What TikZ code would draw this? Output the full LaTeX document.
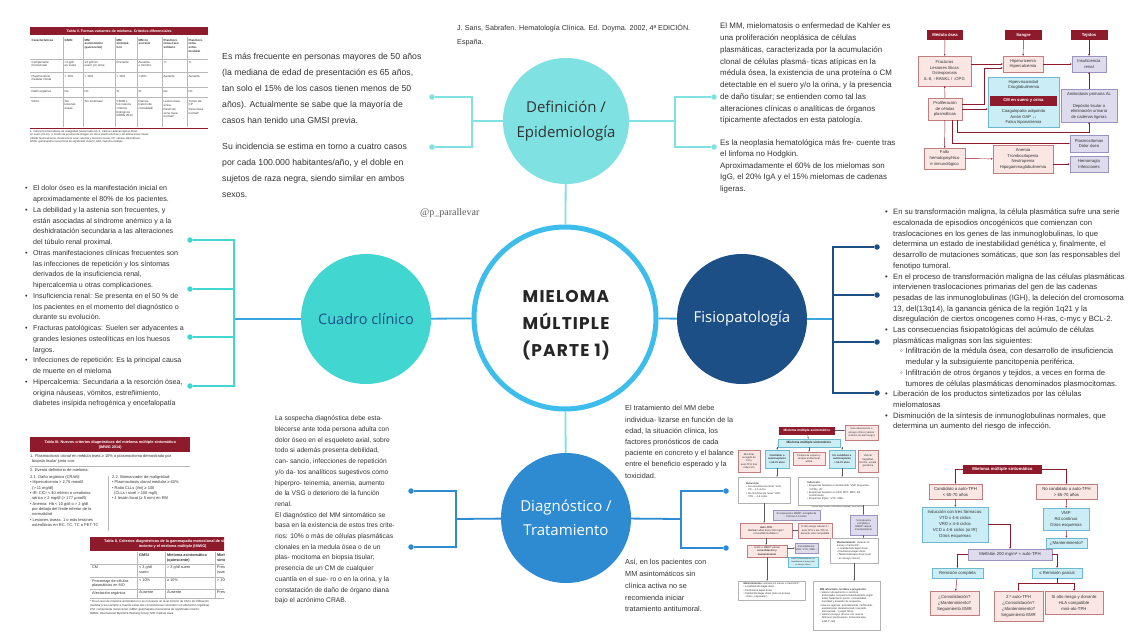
\documentclass[tikz,border=0pt]{standalone}
\usepackage{fontspec}
\setmainfont{Liberation Sans}
\newfontfamily\circfont{Open Sans}
\newfontfamily\titlefont[LetterSpace=7]{Poppins}
\newfontfamily\signfont{Liberation Serif}
\usetikzlibrary{arrows.meta}
\definecolor{txt}{HTML}{333333}
\definecolor{defc}{HTML}{80E1E3}
\definecolor{cuac}{HTML}{42D6D1}
\definecolor{fisc}{HTML}{1D4F87}
\definecolor{diac}{HTML}{2E8BD2}
\definecolor{ringc}{HTML}{3CBDEB}
\definecolor{conc}{HTML}{3AA6DF}
\definecolor{dred}{HTML}{8E1B2C}
\definecolor{pinkf}{HTML}{FAE6E3}
\definecolor{pinkd}{HTML}{C07E7E}
\definecolor{bluef}{HTML}{CBEDF6}
\definecolor{blued}{HTML}{6DB9D2}
\definecolor{lavf}{HTML}{DEDBEC}
\definecolor{lavd}{HTML}{9A93BF}
\definecolor{grl}{HTML}{B8B8B8}
\newcommand\fsz[2]{\fontsize{#1}{#2}\selectfont}
\newcommand\bulA{\makebox[8pt][l]{•}}
\newcommand\indA{\hspace*{8pt}}
\newcommand\bulB{\makebox[8pt][l]{•}}
\newcommand\indB{\hspace*{8pt}}
\newcommand\subB{\hspace*{15pt}\makebox[5.5pt][l]{◦}}
\newcommand\subindB{\hspace*{20.5pt}}
\newcommand\spc{\hspace*{2pt}}
\tikzset{
  blk/.style={anchor=north west, align=left, inner sep=0pt, text=txt},
  dotn/.style={circle, fill=#1, inner sep=0pt, minimum size=5.5pt},
  ln/.style={line width=1.8pt},
  fb/.style={draw=#1, line width=0.4pt, inner sep=0.6pt, align=center, text=txt},
  pk/.style={fb=pinkd, fill=pinkf},
  bx/.style={fb=blued, fill=bluef},
  lv/.style={fb=lavd, fill=lavf},
  wt/.style={fb=gray!60, fill=white},
  rd/.style={fill=dred, text=white, inner sep=0.6pt, align=center},
  ar/.style={-{Stealth[length=2pt,width=1.7pt]}, line width=0.45pt, draw=dred},
  ga/.style={-{Stealth[length=1.5pt,width=1.3pt]}, line width=0.35pt, draw=gray!70!black},
  cel/.style={anchor=north west, align=left, inner sep=0pt, text=txt},
  tl/.style={draw=grl, line width=0.3pt},
}
\begin{document}
\begin{tikzpicture}[x=1pt,y=-1pt]
\useasboundingbox[fill=white] (0,0) rectangle (1137,640);

% ---------------- circles ----------------
\node[circle, fill=defc, minimum size=126pt, inner sep=0pt, font=\circfont\fsz{15}{25}, text=txt, align=center] (def) at (566,121) {Definición /\\Epidemiología};
\node[circle, draw=ringc, line width=5pt, fill=white, minimum size=182pt, inner sep=0pt] (mm) at (565,318) {};
\node[font=\titlefont\bfseries\fsz{17}{27}, align=center, text=black!85] (mmt) at (566,325) {MIELOMA\\MÚLTIPLE\\(PARTE 1)};
\node[circle, fill=cuac, minimum size=130pt, inner sep=0pt, font=\circfont\fsz{14.5}{20}, text=fisc] (cua) at (366,319) {Cuadro clínico};
\node[circle, fill=fisc, minimum size=130pt, inner sep=0pt, font=\circfont\fsz{15}{20}, text=white] (fis) at (742,319) {Fisiopatología};
\node[circle, fill=diac, minimum size=130pt, inner sep=0pt, font=\circfont\fsz{15}{24}, text=white, align=center] (dia) at (566,518) {Diagnóstico /\\Tratamiento};

\draw[defc, ln] (def) -- (mm);
\draw[defc, ln] (mm) -- (dia);
\draw[conc, ln] (mm) -- (cua);
\draw[conc, ln] (mm) -- (fis);

% Definicion brackets
\coordinate (dlj) at (472,121);
\node[dotn=defc] (dl1) at (432,97) {};
\node[dotn=defc] (dl2) at (432,147) {};
\draw[defc, ln] (def) -- (dlj);
\draw[defc, ln] (dl1) -| (dlj) |- (dl2);
\coordinate (drj) at (675,121);
\node[dotn=defc] (dr1) at (714,97) {};
\node[dotn=defc] (dr2) at (714,147) {};
\draw[defc, ln] (def) -- (drj);
\draw[defc, ln] (dr1) -| (drj) |- (dr2);

% Cuadro bracket
\coordinate (cuj) at (234,319);
\node[dotn=cuac] (cd1) at (190,240) {};
\node[dotn=cuac] (cd2) at (190,289) {};
\node[dotn=cuac] (cd3) at (190,337) {};
\node[dotn=cuac] (cd4) at (190,386) {};
\draw[conc, ln] (cua) -- (cuj);
\draw[cuac, ln] (cd1) -| (cuj) |- (cd4);
\draw[cuac, ln] (cd2) -- (cd2 -| cuj);
\draw[cuac, ln] (cd3) -- (cd3 -| cuj);

% Fisio bracket
\coordinate (fij) at (833,319);
\node[dotn=fisc] (fd1) at (877,247) {};
\node[dotn=fisc] (fd2) at (877,295) {};
\node[dotn=fisc] (fd3) at (877,342) {};
\node[dotn=fisc] (fd4) at (877,393) {};
\draw[conc, ln] (fis) -- (fij);
\draw[fisc, ln] (fd1) -| (fij) |- (fd4);
\draw[fisc, ln] (fd2) -- (fd2 -| fij);
\draw[fisc, ln] (fd3) -- (fd3 -| fij);

% Diagnostico brackets
\coordinate (gdl) at (456,519);
\node[dotn=diac] (gl1) at (411,491) {};
\node[dotn=diac] (gl2) at (411,547) {};
\draw[diac, ln] (dia) -- (gdl);
\draw[diac, ln] (gl1) -| (gdl) |- (gl2);
\coordinate (gdr) at (681,519);
\node[dotn=diac] (gr1) at (726,491) {};
\node[dotn=diac] (gr2) at (726,548) {};
\draw[diac, ln] (dia) -- (gdr);
\draw[diac, ln] (gr1) -| (gdr) |- (gr2);

% ---------------- texts ----------------
\node[blk, font=\fsz{8.7}{16}] (t1) at (222,52.7) {Es más frecuente en personas mayores de 50 años\\(la mediana de edad de presentación es 65 años,\\tan solo el 15\% de los casos tienen menos de 50\\años). Actualmente se sabe que la mayoría de\\casos han tenido una GMSI previa.};
\node[blk, font=\fsz{8.7}{16}] (t2) at (222,142.7) {Su incidencia se estima en torno a cuatro casos\\por cada 100.000 habitantes/año, y el doble en\\sujetos de raza negra, siendo similar en ambos\\sexos.};
\node[blk, font=\fsz{7.2}{14}] (t3) at (457,24.5) {J. Sans, Sabrafen. Hematología Clínica. Ed. Doyma. 2002, 4ª EDICIÓN.\\España.};
\node[blk, font=\fsz{7.9}{11.75}] (t4) at (720,23) {El MM, mielomatosis o enfermedad de Kahler es\\una proliferación neoplásica de células\\plasmáticas, caracterizada por la acumulación\\clonal de células plasmá- ticas atípicas en la\\médula ósea, la existencia de una proteína o CM\\detectable en el suero y/o la orina, y la presencia\\de daño tisular; se entienden como tal las\\alteraciones clínicas o analíticas de órganos\\típicamente afectados en esta patología.};
\node[blk, font=\fsz{7.9}{11.5}] (t5) at (720,139) {Es la neoplasia hematológica más fre- cuente tras\\el linfoma no Hodgkin.\\Aproximadamente el 60\% de los mielomas son\\IgG, el 20\% IgA y el 15\% mielomas de cadenas\\ligeras.};
\node[blk, font=\fsz{7.1}{10.75}] (t6) at (25,185.5) {\bulA El dolor óseo es la manifestación inicial en\\\indA aproximadamente el 80\% de los pacientes.\\\bulA La debilidad y la astenia son frecuentes, y\\\indA están asociadas al síndrome anémico y a la\\\indA deshidratación secundaria a las alteraciones\\\indA del túbulo renal proximal.\\\bulA Otras manifestaciones clínicas frecuentes son\\\indA las infecciones de repetición y los síntomas\\\indA derivados de la insuficiencia renal,\\\indA hipercalcemia u otras complicaciones.\\\bulA Insuficiencia renal: Se presenta en el 50 \% de\\\indA los pacientes en el momento del diagnóstico o\\\indA durante su evolución.\\\bulA Fracturas patológicas: Suelen ser adyacentes a\\\indA grandes lesiones osteolíticas en los huesos\\\indA largos.\\\bulA Infecciones de repetición: Es la principal causa\\\indA de muerte en el mieloma\\\bulA Hipercalcemia: Secundaria a la resorción ósea,\\\indA origina náuseas, vómitos, estreñimiento,\\\indA diabetes insípida nefrogénica y encefalopatía};
\node[blk, font=\fsz{7.7}{10.7}] (t7) at (885,209) {\bulB En su transformación maligna, la célula plasmática sufre una serie\\\indB escalonada de episodios oncogénicos que comienzan con\\\indB traslocaciones en los genes de las inmunoglobulinas, lo que\\\indB determina un estado de inestabilidad genética y, finalmente, el\\\indB desarrollo de mutaciones somáticas, que son las responsables del\\\indB fenotipo tumoral.\\\bulB En el proceso de transformación maligna de las células plasmáticas\\\indB intervienen traslocaciones primarias del gen de las cadenas\\\indB pesadas de las inmunoglobulinas (IGH), la deleción del cromosoma\\\indB 13, del(13q14), la ganancia génica de la región 1q21 y la\\\indB disregulación de ciertos oncogenes como H-ras, c-myc y BCL-2.\\\bulB Las consecuencias fisiopatológicas del acúmulo de células\\\indB plasmáticas malignas son las siguientes:\\\subB Infiltración de la médula ósea, con desarrollo de insuficiencia\\\subindB medular y la subsiguiente pancitopenia periférica.\\\subB Infiltración de otros órganos y tejidos, a veces en forma de\\\subindB tumores de células plasmáticas denominados plasmocitomas.\\\bulB Liberación de los productos sintetizados por las células\\\indB mielomatosas\\\bulB Disminución de la síntesis de inmunoglobulinas normales, que\\\indB determina un aumento del riesgo de infección.};
\node[blk, font=\fsz{6.7}{10.7}] (t8) at (275,415.7) {La sospecha diagnóstica debe esta-\\blecerse ante toda persona adulta con\\dolor óseo en el esqueleto axial, sobre\\todo si además presenta debilidad,\\can- sancio, infecciones de repetición\\y/o da- tos analíticos sugestivos como\\hiperpro- teinemia, anemia, aumento\\de la VSG o deterioro de la función\\renal.\\El diagnóstico del MM sintomático se\\basa en la existencia de estos tres crite-\\rios: 10\% o más de células plasmáticas\\clonales en la medula ósea o de un\\plas- mocitoma en biopsia tisular;\\presencia de un CM de cualquier\\cuantía en el sue- ro o en la orina, y la\\constatación de daño de órgano diana\\bajo el acrónimo CRAB.};
\node[blk, font=\fsz{7.3}{11.2}] (t9) at (625,405.4) {El tratamiento del MM debe\\individua- lizarse en función de la\\edad, la situación clínica, los\\factores pronósticos de cada\\paciente en concreto y el balance\\entre el beneficio esperado y la\\toxicidad.};
\node[blk, font=\fsz{7.3}{11.7}] (t10) at (625,559.4) {Así, en los pacientes con\\MM asintomáticos sin\\clínica activa no se\\recomienda iniciar\\tratamiento antitumoral.};
\node[anchor=west, inner sep=0pt, font=\signfont\fsz{10}{12}, text=gray!70!black] (sig) at (420,213) {@p\_parallevar};

% ---------------- Tabla V (top left) ----------------
\node[rd, anchor=north west, minimum width=178pt, minimum height=8pt, font=\bfseries\fsz{3.6}{4}] (tvh) at (30,27) {Tabla V. Formas variantes de mieloma. Criterios diferenciales};
\foreach \xx in {63,83,115,137,162,187} \draw[tl] (\xx,37) -- (\xx,127);
\foreach \yy in {59,72.5,87.5,97.5} \draw[tl] (30,\yy) -- (208,\yy);
\draw[dred, line width=0.5pt] (30,128) -- (208,128);
\begin{scope}[every node/.style={cel, font=\fsz{3}{3.6}}]
\node (v1) at (31.5,39) {\textbf{Características}};
\node (v2) at (64.5,39) {\textbf{GMSI}};
\node (v3) at (84.5,39) {\textbf{MM}\\\textbf{asintomático}\\\textbf{(quiescente)}};
\node (v4) at (116.5,39) {\textbf{MM}\\\textbf{sintomá-}\\\textbf{tico}};
\node (v5) at (138.5,39) {\textbf{MM no}\\\textbf{secretor}};
\node (v6) at (163.5,39) {\textbf{Plasmoci-}\\\textbf{toma óseo}\\\textbf{solitario}};
\node (v7) at (188.5,39) {\textbf{Plasmoci-}\\\textbf{toma}\\\textbf{extra-}\\\textbf{medular}};
\node (v8) at (31.5,61) {Componente\\monoclonal};
\node (v9) at (64.5,61) {<3 g/dl\\en suero};
\node (v10) at (84.5,61) {≥3 g/dl en\\suero y/o orina};
\node (v11) at (116.5,61) {Presente};
\node (v12) at (138.5,61) {Ausente\\o mínimo};
\node (v13) at (163.5,61) {+/-};
\node (v14) at (188.5,61) {+/-};
\node (v15) at (31.5,75) {Plasmocitosis\\medular clonal};
\node (v16) at (64.5,75) {< 10\%};
\node (v17) at (84.5,75) {> 10\%};
\node (v18) at (116.5,75) {> 10\%};
\node (v19) at (138.5,75) {>10\%};
\node (v20) at (163.5,75) {Ausente};
\node (v21) at (188.5,75) {Ausente};
\node (v22) at (31.5,90) {Daño orgánico};
\node (v23) at (64.5,90) {No};
\node (v24) at (84.5,90) {No};
\node (v25) at (116.5,90) {Sí};
\node (v26) at (138.5,90) {Sí};
\node (v27) at (163.5,90) {No};
\node (v28) at (188.5,90) {No};
\node (v29) at (31.5,100) {Otros};
\node (v30) at (64.5,100) {Sin\\lesiones\\óseas};
\node (v31) at (84.5,100) {Sin síntomas¹};
\node (v32) at (116.5,100) {CRAB o\\los nuevos\\criterios\\biológicos\\IMWG 2014};
\node (v33) at (138.5,100) {Demos-\\tración de\\clonalidad²};
\node (v34) at (163.5,100) {Lesión ósea\\única\\[1pt]Resto de\\serie ósea\\normal³};
\node (v35) at (188.5,100) {Tumor de\\CP\\[1pt]Serie ósea\\normal³};
\node[font=\fsz{2.7}{3.6}] (v36) at (30,130) {1. Valorar biomarcadores de malignidad (véase tabla III). 2. Valorar cadenas ligeras libres\\en suero (CLLs). 3. Resto de pruebas de imagen sin otros plasmocitomas y sin alteraciones óseas.\\CRAB: hipercalcemia, insuficiencia renal, anemia y lesiones óseas; CP: células plasmáticas;\\GMSI: gammapatía monoclonal de significado incierto; MM: mieloma múltiple.};
\end{scope}

% ---------------- Top-right flowchart ----------------
\begin{scope}[every node/.append style={font=\fsz{4.2}{5.6}}]
\node[rd, minimum width=36pt, minimum height=10pt, font=\bfseries\fsz{4.2}{5}] (rmo) at (945,35) {Médula ósea};
\node[rd, minimum width=37pt, minimum height=10pt, font=\bfseries\fsz{4.2}{5}] (rsa) at (1023.5,35) {Sangre};
\node[rd, minimum width=37pt, minimum height=10pt, font=\bfseries\fsz{4.2}{5}] (rte) at (1089,35) {Tejidos};
\node[pk, minimum width=53pt, minimum height=30pt] (frac) at (944.5,71) {Fracturas\\Lesiones líticas\\Osteoporosis\\IL-6, ↑RANKL / ↓OPG};
\node[pk, minimum width=40pt, minimum height=16pt] (hiper) at (1023,64) {Hiperuricemia\\Hipercalcemia};
\node[lv, minimum width=34pt, minimum height=16pt] (insuf) at (1089,64) {Insuficiencia\\renal};
\node[bx, minimum width=71pt, minimum height=50pt] (cmb) at (1023.5,102) {};
\node[inner sep=0pt, align=center, text=txt] (cmt1) at (1023.5,85) {Hiperviscosidad\\Crioglobulinemia};
\node[rd, minimum width=67pt, minimum height=10pt, font=\bfseries\fsz{4.2}{5}] (cmr) at (1023.5,100.5) {CM en suero y orina};
\node[inner sep=0pt, align=center, text=txt] (cmt2) at (1023.5,117) {Coagulopatía adquirida\\Anión GAP ↓↓\\Falsa hiponatremia};
\node[pk, minimum width=34pt, minimum height=22pt] (prol) at (945,109) {Proliferación\\de células\\plasmáticas};
\node[lv, minimum width=56pt, minimum height=33pt] (amil) at (1089,105.5) {};
\node[inner sep=0pt, align=center, text=txt] (amt1) at (1089,94) {Amiloidosis primaria AL};
\node[inner sep=0pt, align=center, text=txt] (amt2) at (1089,111.5) {Depósito tisular o\\eliminación urinaria\\de cadenas ligeras};
\node[lv, minimum width=38pt, minimum height=17pt] (plas) at (1089,143.5) {Plasmocitomas\\Dolor óseo};
\node[pk, minimum width=41pt, minimum height=21pt] (fallo) at (944.5,158.5) {Fallo\\hematopoyético\\e inmunológico};
\node[pk, minimum width=60pt, minimum height=28pt] (anem) at (1023,159) {Anemia\\Trombocitopenia\\Neutropenia\\Hipogammaglobulinemia};
\node[lv, minimum width=38pt, minimum height=16pt] (hemo) at (1089,164) {Hemorragia\\Infecciones};
\end{scope}
\draw[ar] (rmo) -- (frac);
\draw[ar] (rsa) -- (hiper);
\draw[ar] (rte) -- (insuf);
\draw[ar] (hiper.west -| frac.east) -- (hiper.west);
\draw[ar] (hiper) -- (insuf);
\draw[ar] (prol) -- (frac);
\draw[ar] (prol.east) -- (prol.east -| cmb.west);
\draw[ar] ([yshift=5pt]prol.east) -| ([xshift=-19pt,yshift=-4pt]hiper.west) -- ([yshift=-4pt]hiper.west);
\draw[ar] (amil) -- (insuf);
\draw[ar] ([xshift=12pt]prol.south) |- ([yshift=-10pt]amil.south) -- (amil.south);
\draw[ar] ([xshift=7pt]prol.south) |- (plas.west);
\draw[ar] (prol) -- (fallo);
\draw[ar] (fallo) -- (anem);
\draw[ar] (anem.east |- hemo.west) -- (hemo.west);

% ---------------- Tabla III (bottom left) ----------------
\node[rd, anchor=north west, minimum width=160pt, minimum height=15pt, font=\bfseries\fsz{3.8}{5}] (w0) at (30,437) {Tabla III. Nuevos criterios diagnósticos del mieloma múltiple sintomático\\(IMWG 2014)};
\begin{scope}[every node/.style={cel, font=\fsz{4}{5.3}}]
\node (w1) at (30,454) {1. Plasmocitosis clonal en médula ósea ≥ 10\% o plasmocitoma demostrado por\\\spc biopsia tisular junto con:};
\node (w2) at (30,468) {2. Evento definitorio de mieloma:};
\node (w3) at (30,475.5) {2.1. Daño orgánico (CRAB):\\• Hipercalcemia > 2,75 mmol/l\\\spc (> 11 mg/dl)\\• IR: ClCr < 40 ml/min o creatinina\\\spc sérica > 2 mg/dl (> 177 µmol/l)\\• Anemia: Hb < 10 g/dl o > 2 g/dl\\\spc por debajo del límite inferior de la\\\spc normalidad\\• Lesiones óseas: 1 o más lesiones\\\spc osteolíticas en RC, TC, TC o PET-TC};
\node (w4) at (112,475.5) {2.2. Biomarcador de malignidad:\\• Plasmocitosis clonal medular ≥ 60\%\\• Ratio CLLs (i/ni) ≥ 100\\\spc (CLLs i nivel > 100 mg/l)\\• 1 lesión focal (≥ 5 mm) en RM};
\end{scope}
\draw[tl] (30,466) -- (190,466);
\draw[tl] (108,476) -- (108,531);

% ---------------- Tabla II (bottom left) ----------------
\begin{scope}
\clip (85,530) rectangle (224,625);
\node[rd, anchor=north west, minimum width=165pt, minimum height=14pt, font=\bfseries\fsz{3.8}{5}] (x0) at (90,537) {Tabla II. Criterios diagnósticos de la gammapatía monoclonal de significado\\incierto y el mieloma múltiple (IMWG)};
\foreach \xx in {137,165,215} \draw[tl] (\xx,552) -- (\xx,598);
\foreach \yy in {564,577.5,589,598} \draw[tl] (90,\yy) -- (255,\yy);
\begin{scope}[every node/.style={cel, font=\fsz{3.8}{4.6}}]
\node (x1) at (139,553.5) {\textbf{GMSI}};
\node (x2) at (167,553.5) {\textbf{Mieloma asintomático}\\\textbf{(quiescente)}};
\node (x3) at (217,553.5) {\textbf{Mieloma}\\\textbf{sintomático}};
\node (x4) at (92,566) {CM};
\node (x5) at (139,566) {< 3 g/dl\\suero};
\node (x6) at (167,566) {> 3 g/dl suero};
\node (x7) at (217,566) {Presente\\(suero/orina)};
\node (x8) at (92,579) {Porcentaje de células\\plasmáticas en MO};
\node (x9) at (139,579) {< 10\%};
\node (x10) at (167,579) {≥ 10\%};
\node (x11) at (217,579) {> 10\%};
\node (x12) at (92,591) {Afectación orgánica};
\node (x13) at (139,591) {Ausente};
\node (x14) at (167,591) {Ausente};
\node (x15) at (217,591) {Presente};
\node[font=\fsz{2.9}{3.8}] (x16) at (90,600.5) {* En el caso de mieloma sintomático no es necesario un nivel mínimo de CM o de infiltración\\medular (casi siempre ≥ cuando estas dos circunstancias coinciden con afectación orgánica).\\CM: componente monoclonal; GMSI: gammapatía monoclonal de significado incierto;\\IMWG: International Myeloma Working Group; MO: médula ósea.};
\end{scope}
\end{scope}

% ---------------- Flowchart 1 (bottom right, left) ----------------
\begin{scope}[every node/.append style={font=\fsz{2.6}{3.2}}]
\node[rd, minimum width=56pt, minimum height=8pt, font=\bfseries\fsz{3.2}{4}] (a1) at (807,430.5) {Mieloma múltiple asintomático};
\node[pk, minimum width=33pt, minimum height=15pt] (a2) at (861.5,432.5) {Solo observación o\\ensayo clínico (valorar\\criterios de alto riesgo)};
\node[bx, minimum width=62pt, minimum height=8pt, font=\bfseries\fsz{3.2}{4}] (a3) at (809,443) {Mieloma múltiple sintomático};
\node[pk, minimum width=22pt, minimum height=22pt] (a4) at (749,461) {Movilizar\\recogida de\\PH y\\auto-TPH tras\\inducción};
\node[bx, minimum width=24pt, minimum height=18pt, font=\bfseries\fsz{2.6}{3.2}] (a5) at (777,459) {Candidato a\\autotrasplante\\< 65-70 años};
\node[pk, minimum width=32pt, minimum height=13pt] (a6) at (809,458.5) {Terapia de soporte y\\terapia antitumoral\\activa};
\node[bx, minimum width=26pt, minimum height=18pt, font=\bfseries\fsz{2.6}{3.2}] (a7) at (842,459) {No candidato a\\autotrasplante\\> 65-70 años};
\node[pk, minimum width=20pt, minimum height=22pt] (a8) at (868,461) {Valorar\\fragilidad,\\ECOG, escala\\geriátrica};
\node[wt, minimum width=52pt, minimum height=26pt, align=left] (a9) at (764,490) {\textbf{Inducción:}\\• Con insuficiencia renal: VCD,\\\spc VD... 4-6 ciclos\\• Sin insuficiencia renal: VRD,\\\spc VTD... 4-6 ciclos};
\node[wt, minimum width=80pt, minimum height=28pt, align=left] (a10) at (838,491) {\textbf{Inducción:}\\• Esquemas basados en bortezomib: VMP (esquema\\\spc VISTA), VD\\• Esquemas basados en VRD, MPT, MPR, Rd\\\spc (continuado)\\• Esquemas triples: VTD, VMD};
\node[inner sep=0pt, text=txt, font=\fsz{1.9}{2.4}] (a10n) at (838,507.5) {(Ajustar dosis a edad, comorbilidad, fragilidad y otros factores)};
\node[lv, minimum width=47pt, minimum height=10pt] (a11) at (796.5,515) {Si respuesta ≥ MBRP: recogida de\\PH tras 4-6 ciclos};
\node[lv, minimum width=27pt, minimum height=20pt] (a12) at (863.5,525) {Si respuesta\\completa o\\MBRP valorar\\mantenimiento};
\node[pk, minimum width=52pt, minimum height=15pt] (a13) at (766,530.5) {\textbf{Auto-TPH}\\Melfalán altas dosis 200 mg/m²\\o busulfán/melfalán iv};
\node[pk, minimum width=34pt, minimum height=15pt] (a14) at (815,530.5) {Si alto riesgo valorar 2.º\\auto-TPH o alo-TPH si\\donante HLA compatible};
\node[pk, minimum width=40pt, minimum height=12pt] (a15) at (767,551) {Si RC o MBRP valorar\\\textbf{consolidación y}\\\textbf{mantenimiento}};
\node[lv, minimum width=23pt, minimum height=10pt] (a16) at (806.5,548) {Consolidación:\\VRD, VTD, VMD...};
\node[bx, minimum width=30pt, minimum height=10pt, font=\fsz{2}{2.6}] (a17) at (803,562) {Valorar mantenimiento con\\lenalidomida o bortezomib\\en ensayo clínico};
\node[wt, minimum width=48pt, minimum height=25pt, align=left] (a18) at (854,550.5) {\textbf{Mantenimiento:} durante 24\\meses o hasta R/P:\\• Lenalidomida bajas dosis\\• Prednisona bajas dosis\\• Talidomida bajas dosis (solo\\\spc en ensayo clínico)};
\node[wt, minimum width=67pt, minimum height=19pt, align=left] (a19) at (771.5,590.5) {\textbf{Mantenimiento:} durante 24 meses o hasta R/P:\\• Lenalidomida bajas dosis\\• Prednisona bajas dosis\\• Talidomida bajas dosis (solo en ensayo\\\spc clínico, especialm.)};
\node[wt, minimum width=67pt, minimum height=49pt, align=left] (a20) at (846.5,605.5) {\textbf{MM refractario, recidiva o progresión:}\\• Valorar retratamiento si recidiva\\\spc prolongada. Esquema individualizado según\\\spc edad, tratamiento previo, comorbilidad,\\\spc toxicidad y duración de respuesta\\• Nuevos agentes: pomalidomida, carfilzomib,\\\spc panobinostat, daratumumab, ixazomib,\\\spc elotuzumab... (según ficha)\\• Valorar ensayos clínicos con nuevos\\\spc fármacos (anticuerpos, inmunoterapia,\\\spc CAR-T cell)};
\end{scope}
\draw[ga] (a1.east) -- (a1.east -| a2.west);
\draw[ga] (a1) -- (a3);
\draw[ga] (a3.south -| a5.north) -- (a5.north);
\draw[ga] (a3.south -| a6.north) -- (a6.north);
\draw[ga] (a3.south -| a7.north) -- (a7.north);
\draw[ga] (a5.south) -- (a5.south |- a9.north);
\draw[ga] (a7.south) -- (a7.south |- a10.north);
\draw[ga] (a9.south) -- (a9.south |- a13.north);
\draw[ga] (a12.north |- a10.south) -- (a12.north);
\draw[ga] (a14.west) -- (a14.west -| a13.east);
\draw[ga] (a13.south) -- (a13.south |- a15.north);
\draw[ga] (a15.east |- a16.west) -- (a16.west);
\draw[ga] (a15.south) -- (a15.south |- a19.north);
\draw[ga] (a12.south) -- (a12.south |- a18.north);
\draw[ga] (a18.south) -- (a18.south |- a20.north);

% ---------------- Flowchart 2 (bottom right) ----------------
\begin{scope}[every node/.append style={font=\fsz{4.3}{6}}]
\node[rd, minimum width=79pt, minimum height=9pt, font=\bfseries\fsz{4.3}{5}] (b1) at (1002.5,469.5) {Mieloma múltiple sintomático};
\node[pk, minimum width=53pt, minimum height=15pt] (b2) at (955.5,491.5) {Candidato a auto-TPH\\< 65-70 años};
\node[pk, minimum width=61pt, minimum height=15pt] (b3) at (1066.5,491.5) {No candidato a auto-TPH\\> 65-70 años};
\node[bx, minimum width=66pt, minimum height=35pt] (b4) at (955,524.5) {Inducción con tres fármacos:\\VTD x 4-6 ciclos\\VRD x 4-6 ciclos\\VCD x 4-6 ciclos (si IR)\\Otros esquemas};
\node[bx, minimum width=46pt, minimum height=22pt] (b5) at (1066,519) {VMP\\Rd continuo\\Otros esquemas};
\node[bx, minimum width=41pt, minimum height=10pt] (b6) at (1066.5,543) {¿Mantenimiento?};
\node[lv, minimum width=84pt, minimum height=11pt] (b7) at (1010,554.5) {Melfalán 200 mg/m² + auto-TPH};
\node[bx, minimum width=51pt, minimum height=10pt] (b8) at (957.5,573) {Remisión completa};
\node[bx, minimum width=50pt, minimum height=10pt] (b9) at (1057,573) {≤ Remisión parcial};
\node[pk, minimum width=49pt, minimum height=24pt] (b10) at (954.5,603) {¿Consolidación?\\¿Mantenimiento?\\Seguimiento EMR};
\node[pk, minimum width=49pt, minimum height=30pt] (b11) at (1018.5,606) {2.º auto-TPH\\¿Consolidación?\\¿Mantenimiento?\\Seguimiento EMR};
\node[pk, minimum width=58pt, minimum height=23pt] (b12) at (1074,602.5) {Si alto riesgo y donante\\HLA compatible\\mini-alo-TPH};
\end{scope}
\coordinate (bsp) at (1057,583);
\draw[ar] (b1.west) -| (b2.north);
\draw[ar] (b1.east) -| (b3.north);
\draw[ar] (b2) -- (b4);
\draw[ar] (b3) -- (b5);
\draw[ar] (b5) -- (b6);
\draw[ar] (b4.east) -| (b7.north);
\draw[ar] (b7.west) -| (b8.north);
\draw[ar] (b7.east) -| (b9.north);
\draw[ar] (b8) -- (b10);
\draw[dred, line width=0.45pt] (b9) -- (bsp);
\draw[ar] (bsp) -| (b11.north);
\draw[ar] (bsp) -| (b12.north);
\end{tikzpicture}
\end{document}
